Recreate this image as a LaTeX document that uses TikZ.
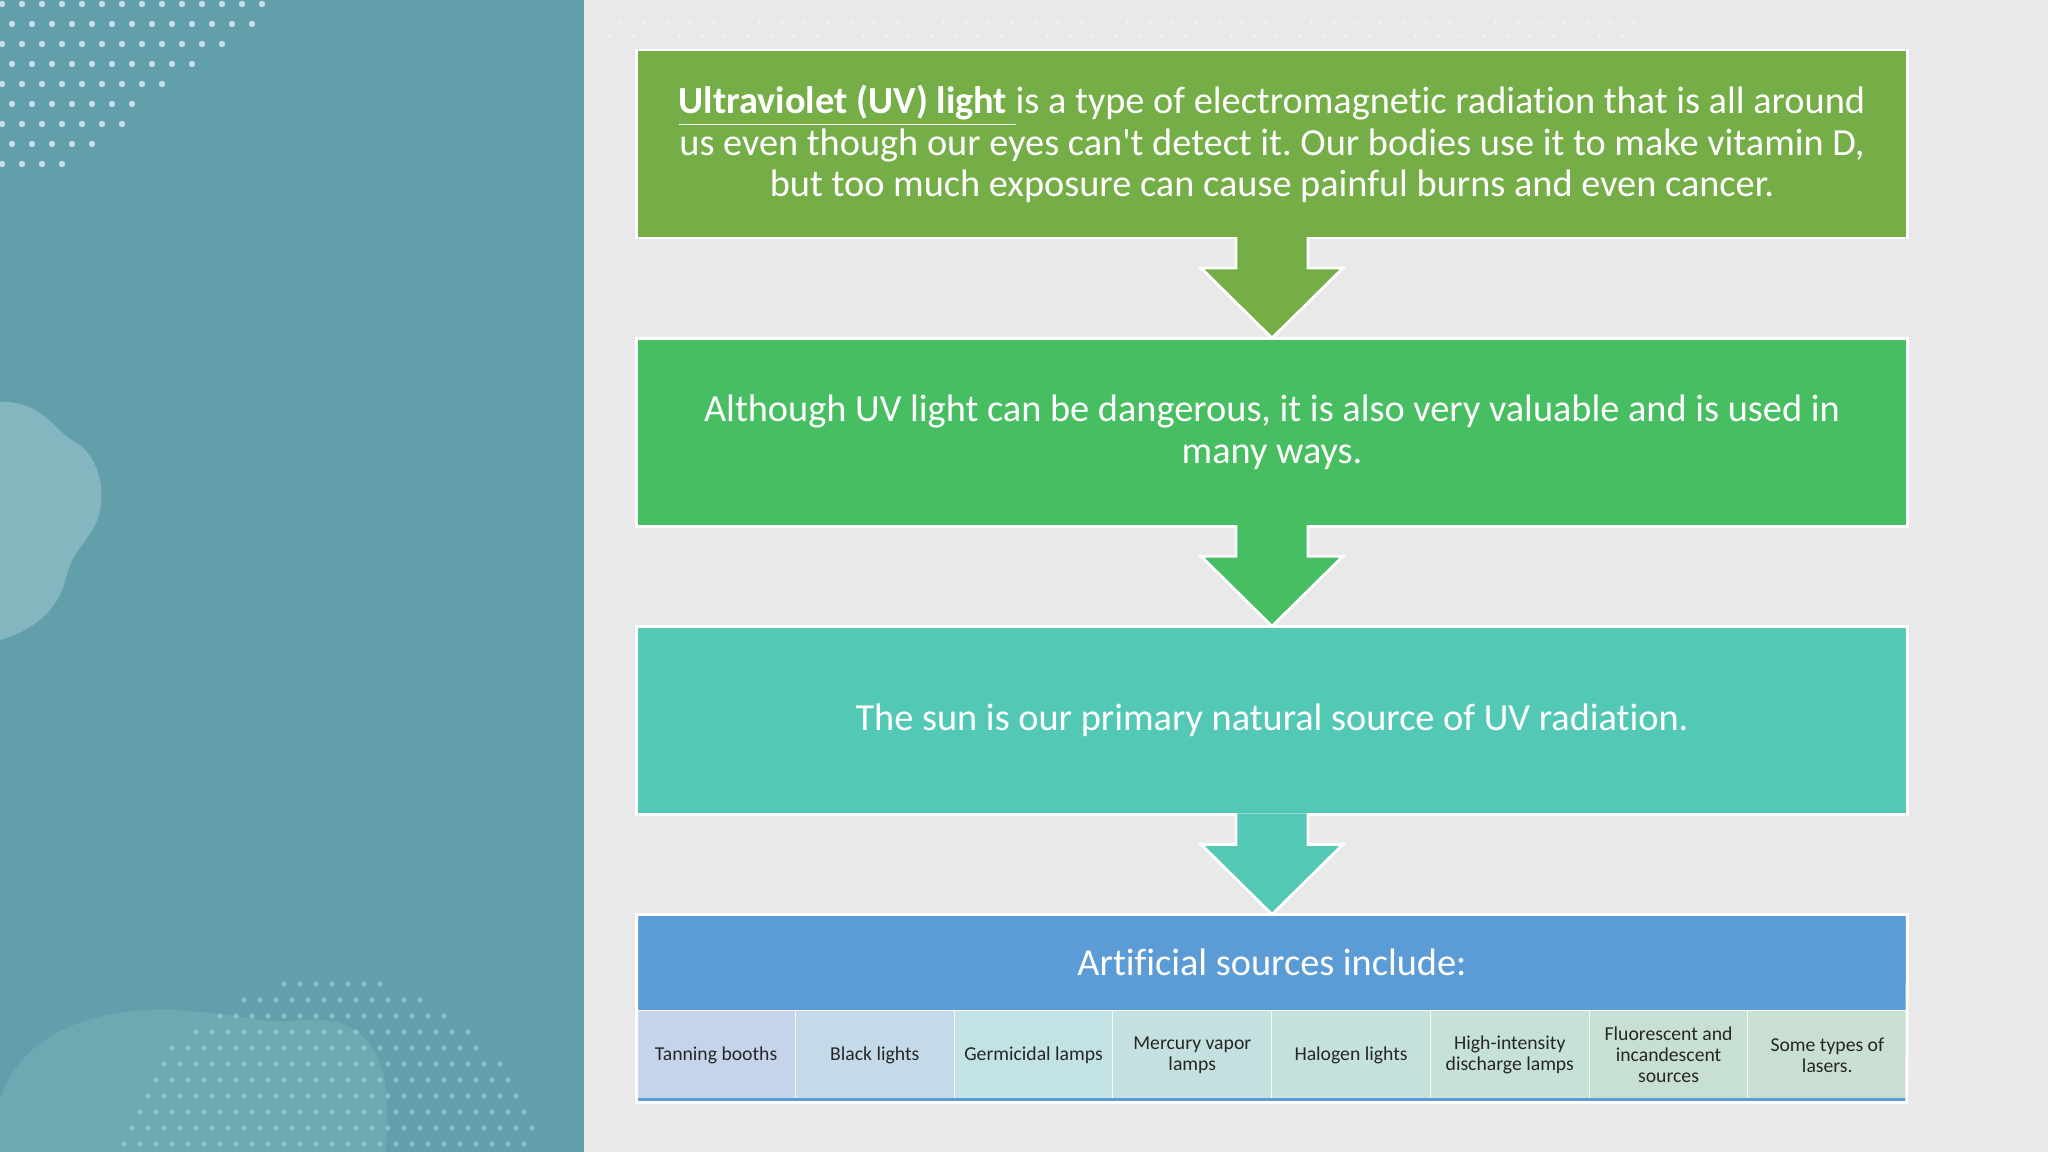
\documentclass[tikz,border=0pt]{standalone}
\usepackage{fontspec}
\setmainfont{Carlito}[Ligatures=NoCommon]
\usetikzlibrary{positioning, calc}
\frenchspacing

\definecolor{slidebg}{HTML}{E9E9E9}
\definecolor{panel}{HTML}{639FAB}
\definecolor{blobcol}{HTML}{84B6C0}
\definecolor{lowblob}{HTML}{6CA9B2}
\definecolor{dotcol}{HTML}{C6E0E8}
\definecolor{uvgreen}{HTML}{75AD46}
\definecolor{safegreen}{HTML}{47BE62}
\definecolor{suncyan}{HTML}{53C9B5}
\definecolor{hdrblue}{HTML}{5B9BD6}
\definecolor{srctext}{HTML}{262626}

\tikzset{
  stepbox/.style={draw=white, line width=0.8pt, fill=#1, minimum width=12.7cm,
    minimum height=1.88cm, inner sep=0pt, outer sep=0pt, text=white,
    align=center, font=\fontsize{10.9}{11.9}\selectfont},
  hdrbox/.style={fill=hdrblue, minimum width=12.7cm, minimum height=0.96cm,
    inner sep=0pt, outer sep=0pt, text=white, font=\fontsize{10.9}{11.9}\selectfont},
  srccell/.style={fill=#1, draw=white!80!#1, line width=0.3pt,
    minimum width=1.5875cm, minimum height=0.89cm, inner sep=0pt, outer sep=0pt,
    text=srctext, align=center, font=\fontsize{5.6}{6}\selectfont},
  flow/.style={draw=white, line width=0.8pt, line join=miter},
}

\newcommand{\flowarrow}[3]{%
  \filldraw[flow, fill=#3] ($(#1.south)+(-36,-1)$) -- ($(#1.south)+(-36,30)$)
    -- ($(#1.south)+(-71,30)$) -- (#2.north) -- ($(#1.south)+(71,30)$)
    -- ($(#1.south)+(36,30)$) -- ($(#1.south)+(36,-1)$);
}

\begin{document}
\begin{tikzpicture}[x=0.01cm, y=-0.01cm]
  \useasboundingbox (0,0) rectangle (2048,1152);

  % Background
  \fill[slidebg] (0,0) rectangle (2048,1152);
  \fill[panel] (0,0) rectangle (584,1152);

  % Faint dots, top
  \foreach \i in {0,...,44}
    \foreach \j in {0,...,2}{
      \pgfmathsetmacro\dx{610+\i*23+mod(\j,2)*11}
      \pgfmathsetmacro\dy{8+\j*14}
      \fill[white, opacity=0.45] (\dx,\dy) circle (0.5pt);
    }

  % Blobs
  \fill[blobcol] (0,402) .. controls (40,400) and (55,430) .. (72,440)
    .. controls (102,455) and (108,500) .. (95,525)
    .. controls (85,545) and (72,552) .. (66,578)
    .. controls (58,612) and (30,632) .. (0,640) -- cycle;
  \fill[lowblob] (0,1100) .. controls (20,1035) and (90,1010) .. (160,1010)
    .. controls (230,1010) and (255,1025) .. (300,1020)
    .. controls (360,1014) and (382,1050) .. (386,1090)
    .. controls (389,1120) and (386,1140) .. (386,1152) -- (0,1152) -- cycle;

  % Dots, top left
  \foreach \i in {0,...,14}
    \foreach \j in {0,...,8}{
      \pgfmathsetmacro\dx{2+\i*20+mod(\j,2)*10}
      \pgfmathsetmacro\dy{4+\j*20}
      \pgfmathtruncatemacro\ok{\dx+1.3*\dy<285}
      \ifnum\ok=1 \fill[dotcol] (\dx,\dy) circle (0.9pt); \fi
    }

  % Dots, bottom left
  \foreach \i in {0,...,28}
    \foreach \j in {0,...,12}{
      \pgfmathsetmacro\dx{100+\i*16+mod(\j,2)*8}
      \pgfmathsetmacro\dy{968+\j*16}
      \pgfmathtruncatemacro\ok{((\dx-330)/215)^2+((\dy-1200)/225)^2<1}
      \ifnum\ok=1 \fill[dotcol, opacity=0.45] (\dx,\dy) circle (0.75pt); \fi
    }

  % Boxes
  \node[stepbox=uvgreen] (intro) at (1272,144)
    {\underline{\textbf{Ultraviolet (UV) light}\ }is a type of electromagnetic radiation that is all around\\
     us even though our eyes can\textquotesingle t detect it. Our bodies use it to make vitamin D,\\
     but too much exposure can cause painful burns and even cancer.};
  \node[stepbox=safegreen, below=1cm of intro] (uses)
    {Although UV light can be dangerous, it is also very valuable and is used in\\ many ways.};
  \node[stepbox=suncyan, below=1cm of uses] (sun)
    {The sun is our primary natural source of UV radiation.};
  \node[hdrbox, below=1cm of sun] (artificial) {Artificial sources include:};

  % Arrows
  \flowarrow{intro}{uses}{uvgreen}
  \flowarrow{uses}{sun}{safegreen}
  \flowarrow{sun}{artificial}{suncyan}

  % Sources
  \foreach \txt/\col [count=\i] in {
      {Tanning booths}/{C6D4EB},
      {Black lights}/{C4DAE8},
      {Germicidal lamps}/{C3E2E3},
      {Mercury vapor\\lamps}/{C4E1E0},
      {Halogen lights}/{C5E1DC},
      {High-intensity\\discharge lamps}/{C6E1D8},
      {Fluorescent and\\incandescent\\sources}/{C8E0D4},
      {Some types of\\lasers.}/{C9DFD1}}{
    \definecolor{cellcol}{HTML}{\col}
    \node[srccell=cellcol, anchor=north west] (src\i)
      at ($(artificial.south west)+({(\i-1)*158.75},0)$) {\txt};
  }
  \draw[hdrblue, line width=0.9pt] (src1.south west) -- (src8.south east);
  \draw[white, line width=0.8pt] (artificial.north west) -- (artificial.north east)
    -- ($(src8.south east)+(0,3)$) -- ($(src1.south west)+(0,3)$) -- cycle;
\end{tikzpicture}
\end{document}
